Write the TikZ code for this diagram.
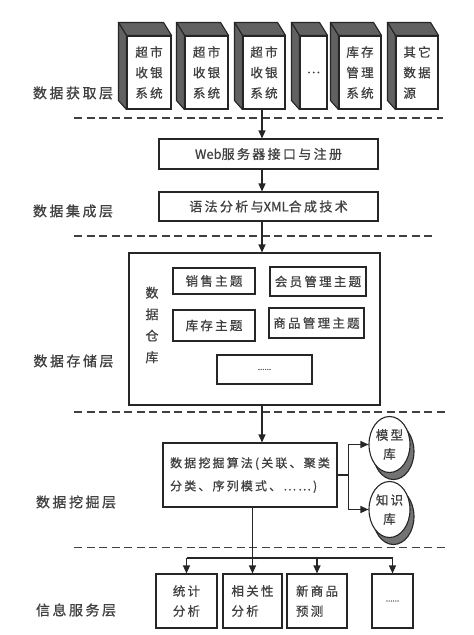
\documentclass[tikz,border=0pt]{standalone}
\usepackage{fontspec}
\setmainfont{Noto Sans CJK SC}
\newfontfamily\cjk[LetterSpace=18,FakeBold=0.7]{Noto Sans CJK SC}
\newfontfamily\lat[FakeBold=0.7]{Noto Sans CJK SC}
\usetikzlibrary{arrows.meta,calc,shapes.geometric,shadows}
\tikzset{
  ln/.style={draw=black!85, line width=1.1pt},
  box/.style={ln, rectangle, inner sep=0pt, text=black!75, fill=white},
  arr/.style={ln, -{Triangle[length=8pt,width=7pt]}},
  sep/.style={draw=black!75, line width=1.5pt, dash pattern=on 8pt off 4.5pt},
  lbl/.style={text=black!75, font=\cjk\fontsize{14}{16}\selectfont},
  srv/.style={box, minimum height=73pt, align=left, font=\cjk\fontsize{12.5}{20.5}\selectfont},
  face/.style={ln, fill=black!62, line join=round},
  topic/.style={box, font=\cjk\fontsize{12.5}{15}\selectfont},
  res/.style={box, minimum height=54pt, align=left, font=\cjk\fontsize{12.5}{20}\selectfont},
  db/.style={ellipse, ln, fill=white, text=black!75, minimum width=41pt, minimum height=56pt,
    inner sep=0pt, align=center, font=\cjk\fontsize{12.5}{19}\selectfont,
    drop shadow={shadow xshift=4pt, shadow yshift=-7pt, fill=black!55, draw=black!85, line width=1.1pt, opacity=1}},
}
\begin{document}
\begin{tikzpicture}[x=1pt,y=-1pt]
\useasboundingbox[fill=white] (0,0) rectangle (474,635);
\coordinate (sp) at (262,0);
\coordinate (bus) at (0,558);

% layer labels
\node[lbl] (L1) at (73,93) {数据获取层};
\node[lbl] (L2) at (73,211) {数据集成层};
\node[lbl] (L3) at (73.5,361) {数据存储层};
\node[lbl] (L4) at (76,502) {数据挖掘层};
\node[lbl] (L5) at (76,610) {信息服务层};

% separators
\draw[sep] (74,118) -- (443,118);
\draw[sep] (74,236) -- (433,236);
\draw[sep] (74,412) -- (447,412);
\draw[sep] (74,547.5) -- (447,547.5);

% source systems
\node[srv, minimum width=44pt] (s1) at (149,72.5) {超市\\收银\\系统};
\node[srv, minimum width=43pt] (s2) at (206.5,72.5) {超市\\收银\\系统};
\node[srv, minimum width=42pt] (s3) at (264,72.5) {超市\\收银\\系统};
\node[srv, minimum width=27pt] (s4) at (313.5,72.5) {…};
\node[srv, minimum width=42pt] (s5) at (360,72.5) {库存\\管理\\系统};
\node[srv, minimum width=42pt] (s6) at (417,72.5) {其它\\数据\\源};
\foreach \s in {s1,s2,s3,s4,s5,s6} {
  \draw[face] (\s.north west) -- ++(-8,-13) -- ($(\s.north east)+(-8,-13)$) -- (\s.north east) -- cycle;
  \draw[face] (\s.north west) -- ++(-8,-13) -- ($(\s.south west)+(-8,-9)$) -- (\s.south west) -- cycle;
}

% integration
\node[box, minimum width=219pt, minimum height=30pt, font=\cjk\fontsize{13}{15}\selectfont] (web) at (268.5,154) {{\lat Web}服务器接口与注册};
\node[box, minimum width=219pt, minimum height=29pt, font=\cjk\fontsize{13}{15}\selectfont] (xml) at (268.5,206.5) {语法分析与{\lat XML}合成技术};

% warehouse
\node[box, minimum width=251pt, minimum height=152pt] (wh) at (254.5,329) {};
\node[text=black!75, align=center, inner sep=0pt, font=\cjk\fontsize{13}{21.5}\selectfont] (whl) at (152,325) {数\\据\\仓\\库};
\node[topic, minimum width=82pt, minimum height=26pt] (t1) at (214,281) {销售主题};
\node[topic, minimum width=96pt, minimum height=29pt] (t2) at (318,281.5) {会员管理主题};
\node[topic, minimum width=82pt, minimum height=31pt] (t3) at (214,325.5) {库存主题};
\node[topic, minimum width=95pt, minimum height=30pt] (t4) at (316.5,323) {商品管理主题};
\node[topic, minimum width=95pt, minimum height=29pt, font=\lat\fontsize{8}{10}\selectfont] (t5) at (264.5,369.5) {......};

% mining
\node[box, minimum width=174pt, minimum height=64pt, align=left, font=\cjk\fontsize{12}{23}\selectfont] (mine) at (250,475) {数据挖掘算法(关联、聚类\\分类、序列模式、……)};
\node[db] (m1) at (389.5,444.5) {模型\\库};
\node[db] (m2) at (389.5,509.5) {知识\\库};

% services
\node[res, minimum width=61pt] (b1) at (186.5,601) {统计\\分析};
\node[res, minimum width=59pt] (b2) at (252.5,601) {相关性\\分析};
\node[res, minimum width=60pt] (b3) at (317,601) {新商品\\预测};
\node[res, minimum width=41pt, font=\lat\fontsize{8}{10}\selectfont] (b4) at (392.5,601) {......};

% connectors
\draw[arr] (sp |- s3.south) -- (sp |- web.north);
\draw[arr] (sp |- web.south) -- (sp |- xml.north);
\draw[arr] (sp |- xml.south) -- (sp |- wh.north);
\draw[arr] (sp |- wh.south) -- (sp |- mine.north);
\coordinate (jn) at ($(mine.east)+(11,0)$);
\draw[ln] (mine.east) -- (jn);
\draw[arr] (jn) |- (m1.west);
\draw[arr] (jn) |- (m2.west);
\draw[ln] (b1.north |- bus) -- (b4.north |- bus);
\foreach \b in {b1,b3,b4} \draw[arr] (\b.north |- bus) -- (\b.north);
\draw[arr] (mine.south -| b2.north) -- (b2.north);
\end{tikzpicture}
\end{document}
